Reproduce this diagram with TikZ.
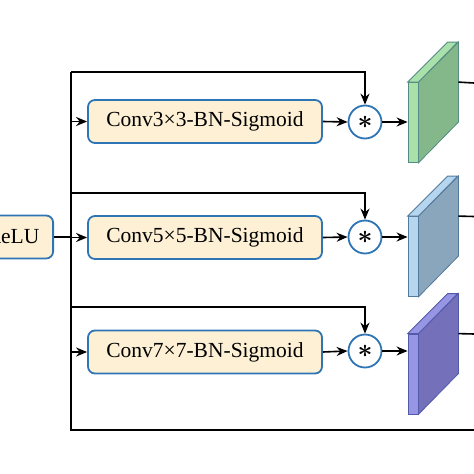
\documentclass[tikz,border=0pt]{standalone}
\usepackage{fontspec}
\setmainfont{Liberation Serif}
\usepackage{amsmath}
\usepackage{graphicx}
\usepackage{tikz}
\usetikzlibrary{shapes,arrows,arrows.meta,positioning,calc}
\definecolor{boxfill}{RGB}{253,240,212}
\definecolor{boxline}{RGB}{46,117,182}
\definecolor{greenfront}{RGB}{170,224,170}
\definecolor{greenside}{RGB}{132,184,138}
\definecolor{greenedge}{RGB}{84,140,132}
\definecolor{bluefront}{RGB}{182,214,240}
\definecolor{blueside}{RGB}{138,166,188}
\definecolor{blueedge}{RGB}{84,122,156}
\definecolor{purplefront}{RGB}{150,150,228}
\definecolor{purpleside}{RGB}{116,112,186}
\definecolor{purpleedge}{RGB}{84,90,170}

\newcommand{\mulsign}{\scalebox{2.6}{$\boldsymbol{\ast}$}}

\begin{document}
\begin{tikzpicture}[
    x=1pt, y=-1pt,
    convbox/.style={rectangle, draw=boxline, fill=boxfill, line width=1.8pt, rounded corners=7pt, minimum width=234pt, minimum height=43pt, inner sep=0pt, font=\fontsize{21.5}{24}\selectfont},
    mult/.style={circle, draw=boxline, fill=white, line width=1.8pt, minimum size=33pt, inner sep=0pt},
    slab/.style={rectangle, line width=0.8pt, minimum width=10pt, minimum height=80pt, inner sep=0pt},
    arrow/.style={-{Stealth[length=11pt, width=9pt]}, line width=1.6pt},
    line/.style={line width=1.6pt}
]
\useasboundingbox (0,0) rectangle (474,474);

% Input block (cut by the left edge)
\node[convbox, minimum width=80pt, anchor=east] (relu) at (54,237) {ReLU};

% Trunk
\coordinate (top) at (71,72);
\coordinate (split) at (71,237);
\coordinate (bot) at (71,430);
\coordinate (botend) at (474,430);
\coordinate (fork2) at (71,193);
\coordinate (fork3) at (71,307);

% Conv branches
\node[convbox] (conv3) at (205,121.5) {Conv3×3-BN-Sigmoid};
\node[convbox] (conv5) at (205,237.5) {Conv5×5-BN-Sigmoid};
\node[convbox] (conv7) at (205,352) {Conv7×7-BN-Sigmoid};

% Multiplications
\node[mult] (mul3) at (365,122) {\raisebox{-1.2pt}{\mulsign}};
\node[mult] (mul5) at (365,237) {\raisebox{-1.2pt}{\mulsign}};
\node[mult] (mul7) at (365,351) {\raisebox{-1.2pt}{\mulsign}};

% Feature maps - front faces
\node[slab, fill=greenfront, draw=greenedge] (map3) at (413,122.5) {};
\node[slab, fill=bluefront, draw=blueedge] (map5) at (413,256.5) {};
\node[slab, fill=purplefront, draw=purpleedge] (map7) at (413,374) {};

% Feature maps - side and top faces
\foreach \m/\c in {map3/green, map5/blue, map7/purple} {
  \draw[fill=\c side, draw=\c edge, line width=0.8pt] (\m.north east) -- ++(40,-40) -- ++(0,80) -- (\m.south east) -- cycle;
  \draw[fill=\c front, draw=\c edge, line width=0.8pt] (\m.north west) -- ++(40,-40) -- ++(10,0) -- (\m.north east) -- cycle;
}

% Outputs to the right edge
\coordinate (out3) at (474,83);
\coordinate (out5) at (474,216.5);
\coordinate (out7) at (474,334);
\draw[line] ($(map3.north east)+(40,0)$) -- (out3);
\draw[line] ($(map5.north east)+(40,0)$) -- (out5);
\draw[line] ($(map7.north east)+(40,0)$) -- (out7);

% Trunk lines
\draw[line] (relu.east) -- (split);
\draw[line] (top) -- (bot) -- (botend);

% Skip lines into the multiplications
\draw[arrow] (top) -| (mul3.north);
\draw[arrow] (fork2) -| (mul5.north);
\draw[arrow] (fork3) -| (mul7.north);

% Into the conv boxes
\draw[arrow] (conv3.west -| top) -- (conv3.west);
\draw[arrow] (conv5.west -| top) -- (conv5.west);
\draw[arrow] (conv7.west -| top) -- (conv7.west);

% Conv to multiplication
\draw[arrow] (conv3.east) -- (mul3.west);
\draw[arrow] (conv5.east) -- (mul5.west);
\draw[arrow] (conv7.east) -- (mul7.west);

% Multiplication to feature map
\draw[arrow] (mul3.east) -- (mul3.east -| map3.west);
\draw[arrow] (mul5.east) -- (mul5.east -| map5.west);
\draw[arrow] (mul7.east) -- (mul7.east -| map7.west);

\end{tikzpicture}
\end{document}
